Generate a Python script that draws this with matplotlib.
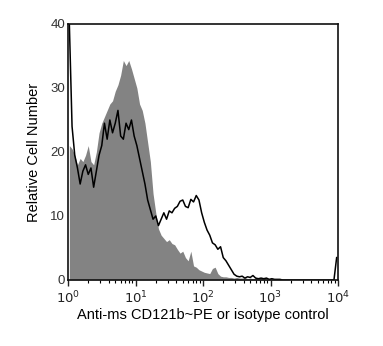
import numpy as np
import matplotlib
matplotlib.use("Agg")
import matplotlib.pyplot as plt

plt.rcParams['font.family'] = ['Liberation Sans', 'DejaVu Sans']

# Histogram channels: 100 equal steps in log10 space from 10^0 to 10^4
n_bins = 100
log_centers = np.linspace(0, 4, n_bins + 1)[:-1] + 0.02
centers = 10 ** log_centers

# Isotype control (filled gray)
isotype = [
    21, 20.5, 19.5, 18, 19, 18.5, 19.5, 21, 18.5, 18,
    20, 23, 24.5, 25.5, 26.5, 27.5, 28, 29.5, 30.5, 32,
    34.3, 33.5, 34.3, 33, 31.5, 30, 27.5, 26.5, 24.5, 21.5,
    18.5, 13.5, 10.5, 8, 7, 6.5, 6, 6.3, 5.7, 5.5,
    4.8, 4.2, 4.5, 3.5, 3.0, 4.5, 2.2, 2.0, 1.6, 1.4,
    1.2, 1.1, 1.0, 1.8, 2.0, 1.0, 0.6, 0.5, 0.5, 0.4,
    0.4, 0.3, 0.4, 0.3, 0.3, 0.4, 0.2, 0.3, 0.2, 0.3,
    0.2, 0.2, 0.3, 0.1, 0.2, 0.1, 0.1, 0.2, 0.1, 0.1,
    0.1, 0.1, 0, 0, 0, 0, 0, 0, 0, 0,
    0, 0, 0, 0, 0, 0, 0, 0, 0, 0,
]

# Anti-ms CD121b~PE stained sample (black outline)
cd121b = [
    40, 24, 19.5, 17.5, 15, 17, 18, 16.5, 17.5, 14.5,
    17, 19.5, 21, 24.5, 22, 25, 23, 24.5, 26.5, 22.5,
    22, 24.5, 23.5, 25, 22.5, 21, 19, 17, 15, 12.5,
    11, 9.5, 10, 8.5, 9.5, 10.5, 9.5, 10.8, 10.5, 11.2,
    11.5, 12.3, 12.5, 11.5, 11.3, 12.6, 12.2, 13.2, 12.5, 10.5,
    9, 7.8, 7, 5.8, 5.5, 4.8, 5.2, 3.5, 3.0, 2.3,
    1.6, 0.9, 0.6, 0.5, 0.6, 0.3, 0.5, 0.4, 0.7, 0.3,
    0.2, 0.3, 0.2, 0.3, 0.1, 0.2, 0.1, 0.1, 0.1, 0,
    0, 0, 0, 0, 0, 0, 0, 0, 0, 0,
    0, 0, 0, 0, 0, 0, 0, 0, 0, 3.5,
]

y_ticks = [0, 10, 20, 30, 40]
x_ticks = [1, 10, 100, 1000, 10000]
x_tick_labels = [r'$10^{0}$', r'$10^{1}$', r'$10^{2}$', r'$10^{3}$', r'$10^{4}$']

fig = plt.figure(figsize=(3.83, 3.46), dpi=100)
ax = fig.add_axes([68 / 383, 1 - 280 / 346, (338 - 68) / 383, (280 - 24) / 346])

ax.fill_between(centers, isotype, 0, color='#838383', linewidth=0)
ax.plot(centers, cd121b, color='black', linewidth=1.1)

ax.set_xscale('log')
ax.set_xlim(1, 10000)
ax.set_ylim(0, 40)

ax.set_xticks(x_ticks)
ax.set_xticklabels(x_tick_labels)
ax.set_yticks(y_ticks)
ax.tick_params(axis='x', which='major', direction='out', length=4, width=1,
               labelsize=9.5, colors='#222222', pad=3)
ax.tick_params(axis='x', which='minor', direction='out', length=2.5, width=0.8)
ax.tick_params(axis='y', which='major', length=0, labelsize=9.5,
               labelcolor='#333333', pad=2)

for side in ['left', 'right', 'top', 'bottom']:
    ax.spines[side].set_linewidth(1.2)
    ax.spines[side].set_color('#111111')

ax.set_xlabel('Anti-ms CD121b~PE or isotype control', fontsize=10.5, labelpad=1)
ax.set_ylabel('Relative Cell Number', fontsize=10.5, labelpad=7)

fig.savefig('out.png', dpi=100)
